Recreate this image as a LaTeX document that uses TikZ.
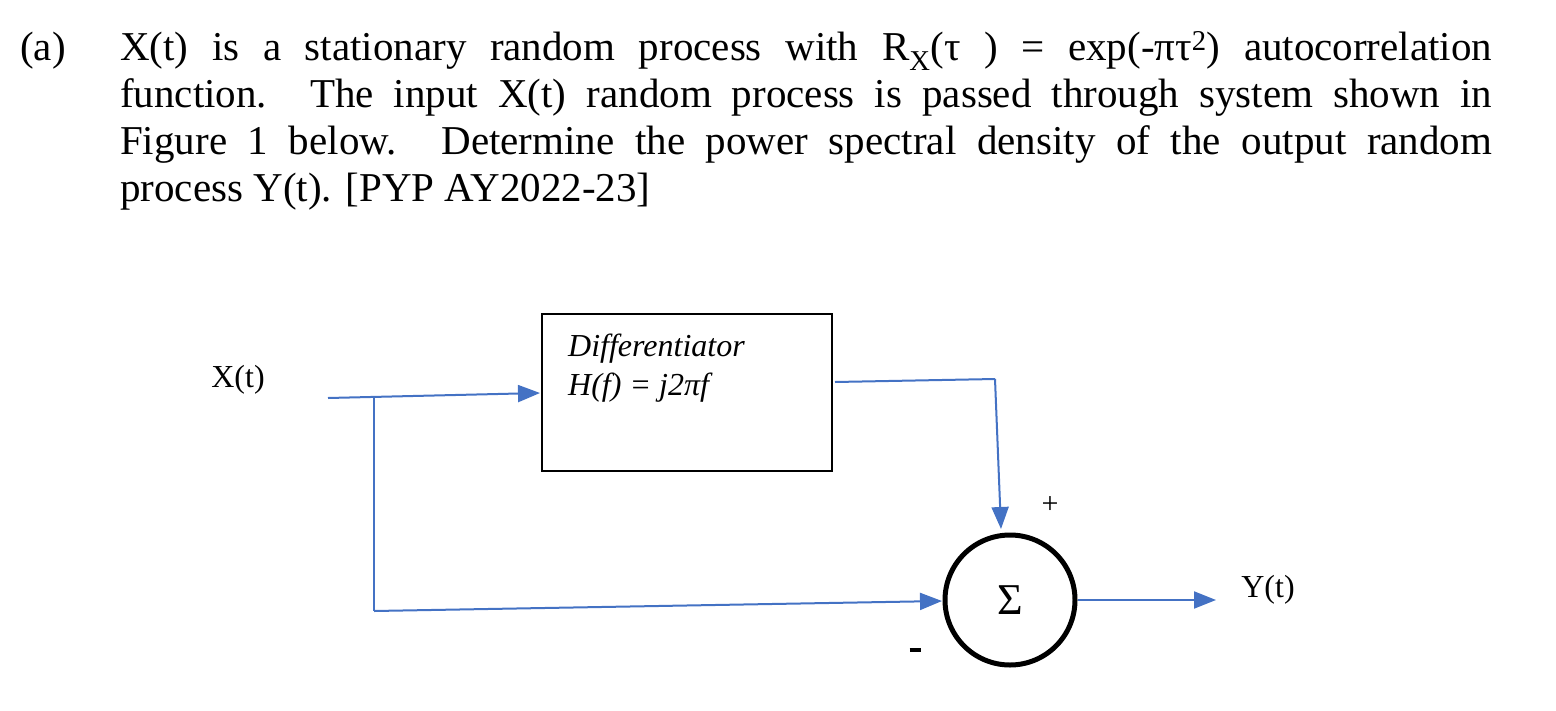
\documentclass[tikz,border=0pt]{standalone}
\usepackage{fontspec}
\setmainfont{Liberation Serif}
\usetikzlibrary{arrows.meta}
\begin{document}
\begin{tikzpicture}[x=1pt,y=-1pt,
  wire/.style={draw=blu,line width=2pt},
  arr/.style={wire,-{Triangle[length=22pt,width=17pt]}},
  lbl/.style={font=\fontsize{32}{36}\selectfont,inner sep=0}]
\definecolor{blu}{RGB}{68,114,196}
\useasboundingbox (0,0) rectangle (1556,710);
\node[anchor=base west,inner sep=0,font=\fontsize{41}{47}\selectfont] (a) at (20,60) {(a)};
\node[anchor=base west,inner sep=0,text width=1372pt,align=justify,font=\fontsize{41}{47}\selectfont] (p) at (120,60)
{\hyphenpenalty=10000 X(t) is a stationary random process with R\textsubscript{X}(τ ) = exp(-πτ\textsuperscript{2}) autocorrelation\linebreak function. The input X(t) random process is passed through system shown in\linebreak Figure 1 below. Determine the power spectral density of the output random\linebreak process Y(t). [PYP AY2022-23]};
\node[draw,line width=2pt,minimum width=290pt,minimum height=157pt,anchor=north west] (box) at (541,313) {};
\node[lbl,anchor=west,font=\itshape\fontsize{32}{36}\selectfont] (d) at (568,349) {Differentiator};
\node[lbl,anchor=west,font=\itshape\fontsize{32}{36}\selectfont] (h) at (568,388) {H(f) = j2πf};
\node[lbl] (x) at (238,380) {X(t)};
\node[lbl] (y) at (1268,590) {Y(t)};
\node[draw,circle,line width=5pt,minimum size=130pt,inner sep=0,font=\fontsize{44}{46}\selectfont] (s) at (1010,600) {Σ};
\node[lbl,font=\fontsize{30}{32}\selectfont] (plus) at (1050,505) {+};
\node[inner sep=0] (minus) at (915,650) {\rule{11pt}{4pt}};
\coordinate (in) at (328,398);
\coordinate (br) at (374,397);
\coordinate (bl) at (374,611);
\coordinate (o1) at (835,382);
\coordinate (o2) at (995,379);
\draw[arr] (in) -- (540,393);
\draw[wire] (br) -- (bl);
\draw[arr] (bl) -- (942,601);
\draw[wire] (o1) -- (o2);
\draw[arr] (o2) -- (1001,529);
\draw[arr] (s.east) -- (1216,600);
\end{tikzpicture}
\end{document}
